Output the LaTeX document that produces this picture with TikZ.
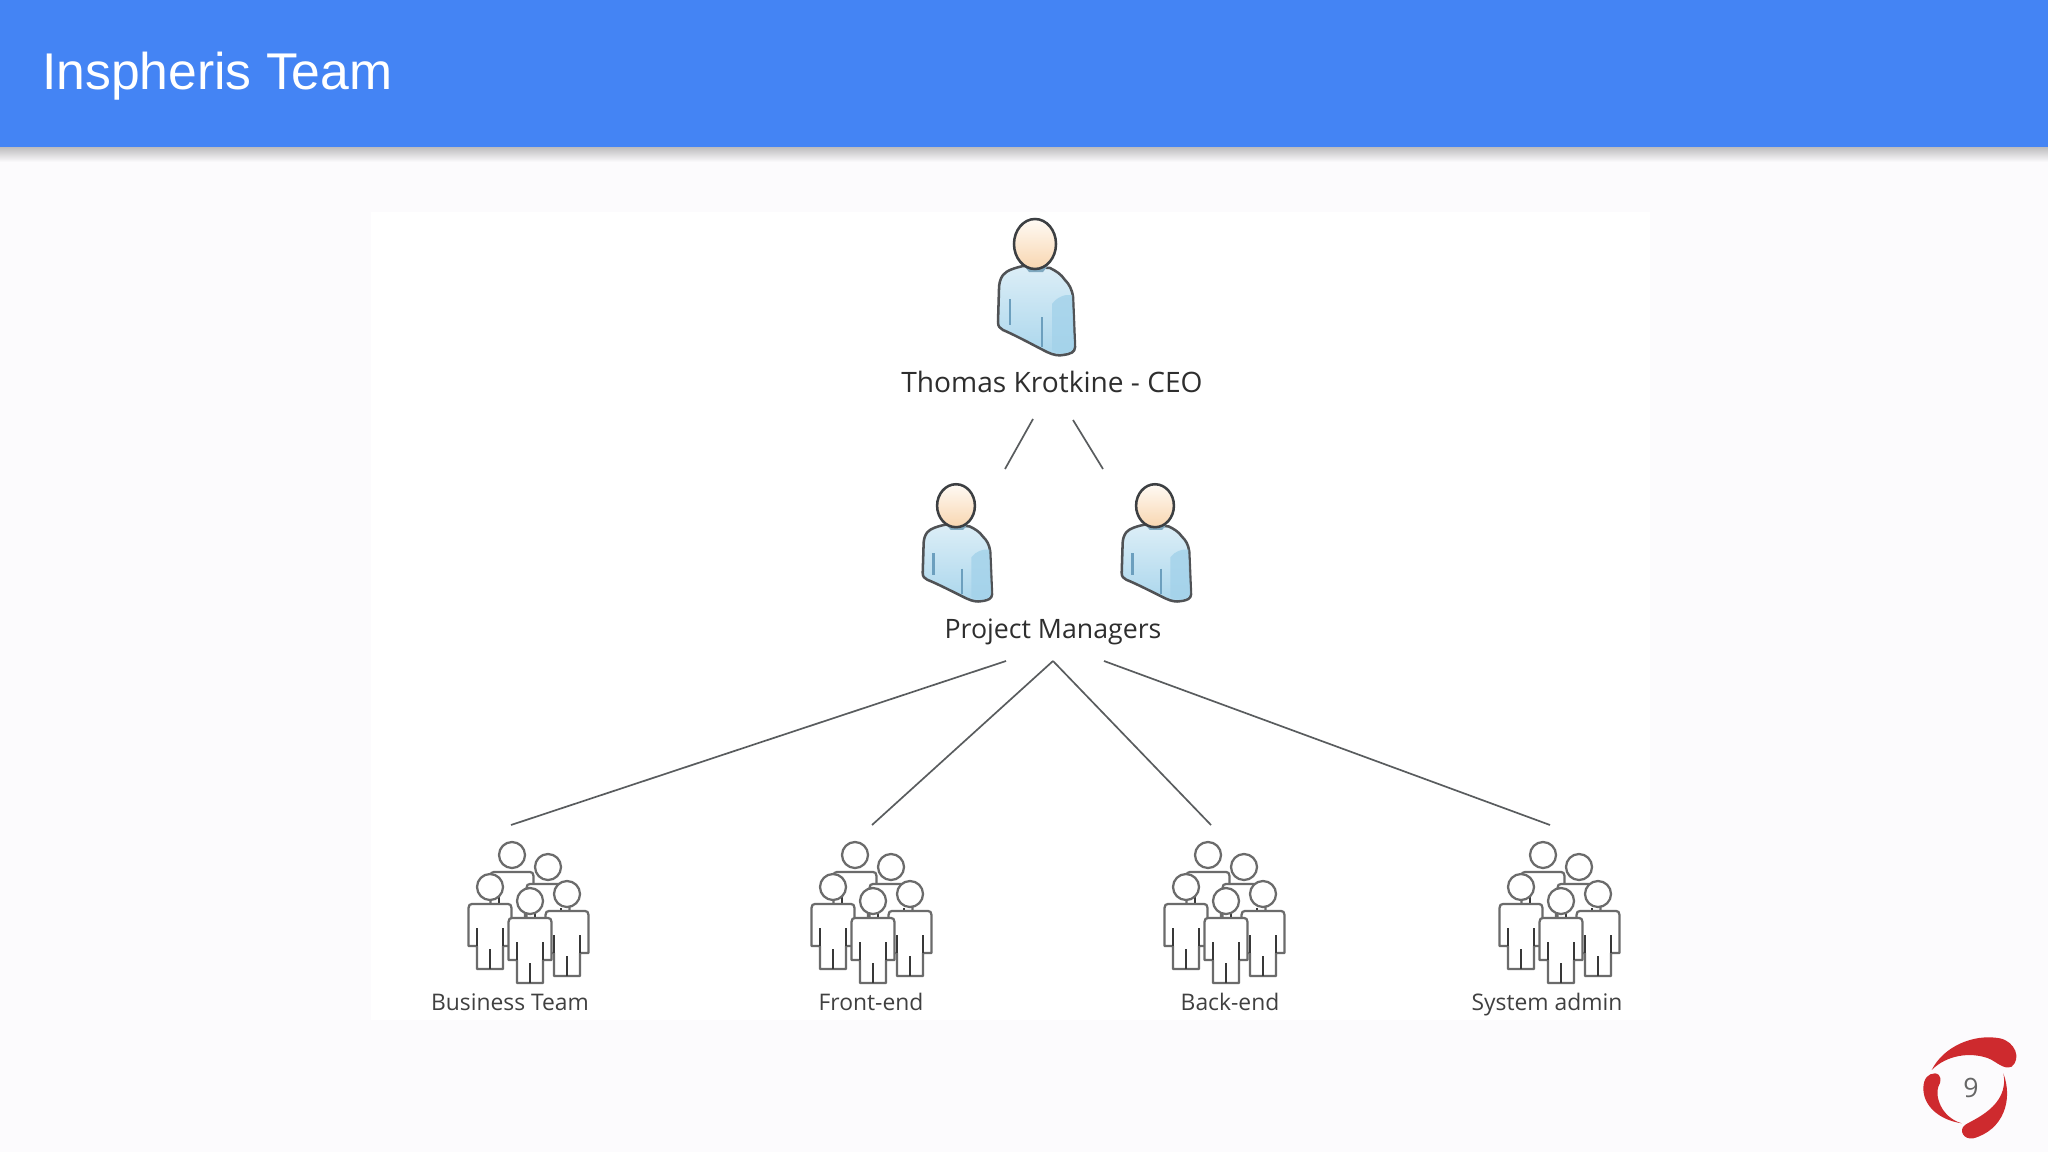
\documentclass[tikz,border=0pt]{standalone}
\usepackage{fontspec}
\setmainfont{Open Sans}
\newfontfamily\titlefont{Liberation Sans}
\definecolor{headerblue}{HTML}{4484F4}
\definecolor{pagebg}{HTML}{FCFBFD}
\definecolor{inkdark}{HTML}{3C3F42}
\definecolor{swirlred}{HTML}{CE2A2E}
\definecolor{bodytop}{HTML}{DCEEF7}
\definecolor{bodylow}{HTML}{AAD6EC}
\definecolor{sleeveblue}{HTML}{A3D2EA}
\definecolor{creaseblue}{HTML}{6C9FBE}
\definecolor{necktone}{HTML}{7FA8BF}
\definecolor{headtop}{HTML}{FFFAF4}
\definecolor{headlow}{HTML}{F8D6B0}
\tikzset{
  link/.style={line width=2.4pt,draw=inkdark!85},
  teamline/.style={line width=3.2pt,draw=black!58,fill=white,line join=round},
  teamstem/.style={line width=3.6pt,draw=black!78},
  bigname/.style={anchor=base,text=black!82,inner sep=0pt},
  smallname/.style={anchor=base,text=black!75,font=\fontsize{32.5}{36}\selectfont,inner sep=0pt},
  pics/personicon/.style={code={
    \draw[line width=3.6pt,draw=inkdark!90,line join=round,top color=bodytop,bottom color=bodylow]
      (-12,24) .. controls (-20,26) and (-28,28) .. (-32,33) .. controls (-35,37) and (-36,42) .. (-36,47)
      -- (-37,80) .. controls (-37,85) and (-35,86) .. (-32,88) .. controls (-18,94) and (0,104) .. (12,110)
      .. controls (18,113) and (24,114) .. (28,113) .. controls (36,112) and (40,110) .. (40,105)
      -- (38,55) .. controls (37,47) and (34,42) .. (30,38) .. controls (26,32) and (21,29) .. (15,26) -- cycle;
    \fill[sleeveblue,opacity=.8] (17,62) .. controls (22,55) and (30,52) .. (37,53) -- (39,104)
      .. controls (38,110) and (33,111) .. (27,111) .. controls (23,111) and (19,110) .. (17,108) -- cycle;
    \draw[line width=3pt,draw=creaseblue] (-25,57) -- (-25,83);
    \draw[line width=3pt,draw=creaseblue] (7,75) -- (7,105);
    \fill[necktone] (-10,25) -- (12,25) -- (8,30) -- (-6,30) -- cycle;
    \draw[line width=3.6pt,draw=inkdark,top color=headtop,bottom color=headlow] (0,2) ellipse (21 and 25);
  }},
  pics/teammate/.style={code={
    \draw[teamline] (-21.5,21) .. controls (-21.5,18) and (-20,17) .. (-18,17) -- (18,17)
      .. controls (20,17) and (21.5,18) .. (21.5,21) -- (21.5,59) -- (13,59) -- (13,82) -- (-13,82) -- (-13,59) -- (-21.5,59) -- cycle;
    \draw[teamstem] (-13,41) -- (-13,59);
    \draw[teamstem] (13,41) -- (13,59);
    \draw[teamstem] (0,62) -- (0,82);
    \draw[teamline] (0,0) circle (13);
  }},
  pics/teamicon/.style={code={
    \pic at (0,0) {teammate};
    \pic at (36,12) {teammate};
    \pic at (-22,32) {teammate};
    \pic at (55,39) {teammate};
    \pic at (18,46) {teammate};
  }}
}
\begin{document}
\begin{tikzpicture}[x=0.05cm,y=-0.05cm]
\useasboundingbox (0,0) rectangle (2048,1152);
\fill[pagebg] (0,0) rectangle (2048,1152);
\fill[white] (371,212) rectangle (1650,1020);
% header bar
\shade[top color=black!25!pagebg,bottom color=pagebg] (0,147) rectangle (2048,162);
\fill[headerblue] (0,0) rectangle (2048,147);
\node[anchor=base west,inner sep=0pt,text=white,font=\titlefont\fontsize{73.5}{78}\selectfont] (title) at (42,90) {Inspheris Team};

\pic at (1035,242) {personicon};
\pic[xscale=.9,yscale=.86] at (956,504) {personicon};
\pic[xscale=.9,yscale=.86] at (1155,504) {personicon};
\node[bigname,font=\fontsize{40}{44}\selectfont] (ceo) at (1052,392) {Thomas Krotkine - CEO};
\node[bigname,font=\fontsize{38}{42}\selectfont] (pm) at (1053,638) {Project Managers};

\coordinate (ceoa) at (1033,419);
\coordinate (ceob) at (1073,420);
\coordinate (pma) at (1005,469);
\coordinate (pmb) at (1103,469);
\draw[link] (ceoa) -- (pma);
\draw[link] (ceob) -- (pmb);

\pic at (512,855) {teamicon};
\pic at (855,855) {teamicon};
\pic at (1208,855) {teamicon};
\pic at (1543,855) {teamicon};
\node[smallname] (business) at (510,1010) {Business Team};
\node[smallname] (front) at (871,1010) {Front-end};
\node[smallname] (back) at (1230,1010) {Back-end};
\node[smallname] (sysadmin) at (1547,1010) {System admin};

\coordinate (pmleft) at (1006,661);
\coordinate (pmmid) at (1053,661);
\coordinate (pmright) at (1104,661);
\coordinate (businesstop) at (511,825);
\coordinate (fronttop) at (872,825);
\coordinate (backtop) at (1211,825);
\coordinate (sysadmintop) at (1550,825);
\draw[link] (pmleft) -- (businesstop);
\draw[link] (pmmid) -- (fronttop);
\draw[link] (pmmid) -- (backtop);
\draw[link] (pmright) -- (sysadmintop);

% page mark
\begin{scope}[shift={(1900,1020)},x=0.05cm/3,y=-0.05cm/3]
\fill[swirlred] (95,150) .. controls (130,80) and (220,40) .. (300,55) .. controls (345,65) and (365,115) .. (335,140)
  .. controls (310,150) and (290,125) .. (265,115) .. controls (210,95) and (140,105) .. (95,150) -- cycle;
\fill[swirlred] (185,310) .. controls (120,300) and (70,260) .. (70,205) .. controls (70,175) and (85,160) .. (105,160)
  .. controls (125,162) and (125,185) .. (115,200) .. controls (105,225) and (120,290) .. (185,310) -- cycle;
\fill[swirlred] (310,160) .. controls (340,240) and (310,330) .. (220,355) .. controls (190,360) and (175,330) .. (195,315)
  .. controls (215,300) and (330,260) .. (310,160) -- cycle;
\end{scope}
\node[inner sep=0pt,text=black!60,font=\fontsize{38}{40}\selectfont] (pagenum) at (1971,1088) {9};
\end{tikzpicture}
\end{document}
